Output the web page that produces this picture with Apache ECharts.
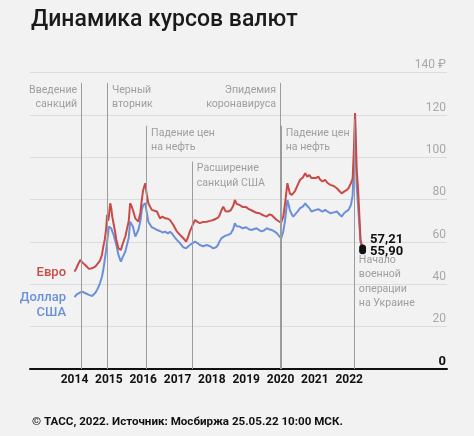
<!DOCTYPE html>
<html><head><meta charset="utf-8">
<script src="https://cdn.jsdelivr.net/npm/echarts@6/dist/echarts.min.js"></script>
<style>html,body{margin:0;padding:0;background:#f2f2f2}#c{width:474px;height:436px}</style>
</head><body><div id="c"></div>
<script>
// decimal years
const dates = [2014.00,2014.05,2014.12,2014.17,2014.22,2014.27,2014.32,2014.37,2014.42,2014.46,2014.51,2014.56,2014.61,2014.66,2014.71,2014.75,2014.80,2014.84,2014.88,2014.92,2014.95,2014.98,
2015.00,2015.04,2015.07,2015.10,2015.14,2015.18,2015.22,2015.28,2015.35,2015.41,2015.48,2015.53,2015.58,2015.62,2015.66,2015.70,2015.77,2015.86,2015.92,2015.96,
2016.00,2016.06,2016.10,2016.15,2016.25,2016.30,2016.40,2016.49,2016.56,2016.64,2016.72,2016.78,2016.84,2016.88,2016.93,2016.98,
2017.07,2017.12,2017.17,2017.25,2017.30,2017.36,2017.44,2017.51,2017.58,2017.65,2017.75,2017.85,2017.95,
2018.04,2018.12,2018.18,2018.23,2018.28,2018.33,2018.40,2018.47,2018.55,2018.62,2018.67,2018.72,2018.81,2018.90,
2019.00,2019.08,2019.15,2019.20,2019.30,2019.39,2019.45,2019.52,2019.60,2019.67,2019.74,2019.82,2019.89,2019.95,
2020.02,2020.08,2020.13,2020.20,2020.24,2020.27,2020.33,2020.37,2020.42,2020.50,2020.57,2020.65,2020.72,2020.78,2020.84,2020.90,2020.95,
2021.03,2021.10,2021.15,2021.22,2021.30,2021.36,2021.45,2021.55,2021.64,2021.72,2021.78,2021.85,2021.92,2021.98,
2022.05,2022.10,2022.14,2022.17,2022.20,2022.22,2022.26,2022.33,2022.39];
const euro = [46,47.5,50,51.5,50.5,49.8,49,48.2,47.3,47,47.6,48,48.5,49,50.5,51.5,54,58,61,66,72.8,70,
72,78.3,76,72,68.5,65,61,57,56.3,59.4,62.6,61.8,70,78.3,77,75.2,71.2,69.6,74,79.9,
84.6,87.8,83,78.3,75.2,76,74.4,71.2,72,71.2,71,70.4,69,68,66.5,65,
63.4,62.5,61.8,60.2,62,65,68,70.4,69.5,68.9,69.5,69.6,70,
70.4,71,71.5,72.8,75,76.7,74.5,74.4,75,77,79.9,78,77.5,76.5,
76.5,75.5,75,74.4,73.8,73.6,73,72.5,72,73,72.8,71.5,70.4,69.8,
69.2,72,78,87.8,85,83,82.3,82,84,87,89.4,90.5,92.5,90.9,91.7,90.2,90.5,
90.2,90.9,89.5,88.6,89.4,88,87,86.5,85.4,84,83,83.8,84.5,85.4,
87.8,90,105,121,105,94,84.6,61,57.21];
const usd = [34,35,35.8,36.4,36.6,36,35.8,35.3,35,34.6,34.5,35.2,36,37.5,39.2,41,43.6,47,51.5,56,60.2,64,
67.3,68,66.5,65,63.4,61,58.6,53.9,50.7,53.1,55.5,55.5,62,69.6,68.5,67.3,62.6,65.7,70,75.2,
77.5,78.3,77.5,69.6,67,66.5,65.7,65.2,64.5,64.9,64,64.9,64,64.2,62,61,
59.5,58.6,57.5,57,57.5,58.6,59.5,60.2,59.5,58.6,58,58.6,58,
57,57.5,58.6,60.5,61.8,62.5,63,63.4,64,66,68.9,67.5,67.3,66.5,
67,66,65.7,65.5,66.5,65.5,65,65.5,66.5,66,65.7,65,64.2,63,
61.8,65,70,79.9,77.5,75.2,73,72,72.8,74.5,76,76.7,78.3,77,76,74.4,74.5,
75.2,75.5,76,74.4,75.2,74.5,73.6,74,74.4,73,72,73.6,74.5,75.2,
77.5,82,98,115,96,86,76.7,60,55.90];
const seriesNames = ['Евро', 'Доллар\nСША'];
const yearTicks = [2014,2015,2016,2017,2018,2019,2020,2021,2022];
const eventDates = [2014.21, 2014.96, 2016.10, 2017.43, 2020.00, 2020.02, 2022.15];
const eventLineTops = [135.2, 135.2, 114.9, 98, 135.2, 114.9, 118];
const eventTextTops = [135.2, 135.2, 114.9, 98, 135.2, 114.9, 54.8];
const eventTexts = ['Введение\nсанкций','Черный\nвторник','Падение цен\nна нефть','Расширение\nсанкций США','Эпидемия\nкоронавируса','Падение цен\nна нефть','Начало\nвоенной\nоперации\nна Украине'];
const eventLeft = [true, false, false, false, true, false, false];

const FONT = 'Roboto';
const RED = '#c94a47', BLUE = '#6b90d8';
const last = dates.length - 1;
const fmt = v => v.toFixed(2).replace('.', ',');

function lineSeries(name, vals, color, startOffset, endOffset, z) {
  return {
    type: 'line', name, z,
    data: dates.map((d, i) => [d, vals[i]]),
    showSymbol: false, symbol: 'none',
    lineStyle: { color, width: 2 },
    itemStyle: { color },
    markPoint: {
      silent: true, animation: false,
      data: [
        { coord: [dates[0], vals[0]], symbol: 'circle', symbolSize: 1, itemStyle: { color: 'transparent' },
          label: { show: true, position: 'left', distance: 8, formatter: name, color, fontFamily: FONT, fontSize: 13, fontWeight: 500, align: 'right', lineHeight: 15, offset: startOffset } },
        { coord: [dates[last], vals[last]], symbol: 'circle', symbolSize: 7, itemStyle: { color: '#111' },
          label: { show: true, position: 'right', distance: 4, formatter: fmt(vals[last]), color: '#111', fontFamily: FONT, fontSize: 13, fontWeight: 'bold', offset: endOffset } }
      ]
    }
  };
}

const chart = echarts.init(document.getElementById('c'), null, { renderer: 'canvas' });
chart.setOption({
  animation: false,
  backgroundColor: '#f2f2f2',
  title: [
    { text: 'Динамика курсов валют', left: 26, top: 4, textStyle: { fontFamily: FONT, fontSize: 23, fontWeight: 500, color: '#1a1a1a' } },
    { text: '© ТАСС, 2022. Источник: Мосбиржа 25.05.22 10:00 МСК.', left: 27, top: 411, textStyle: { fontFamily: FONT, fontSize: 11.6, fontWeight: 'bold', color: '#111' } }
  ],
  grid: { left: 30, right: 27, top: 72.7, bottom: 67 },
  xAxis: {
    type: 'value', min: 2012.704, max: 2024.848,
    axisLine: { lineStyle: { color: '#111', width: 2 } },
    axisTick: { show: false }, splitLine: { show: false },
    axisLabel: { customValues: yearTicks, formatter: v => String(v), fontFamily: FONT, fontWeight: 'bold', fontSize: 12, color: '#111', margin: 5 }
  },
  yAxis: {
    type: 'value', position: 'right', min: 0, max: 140, interval: 20,
    axisLine: { show: false }, axisTick: { show: false },
    splitLine: { lineStyle: { color: '#dcdcdc', width: 1 } },
    axisLabel: {
      inside: true, margin: 1, verticalAlign: 'bottom', lineHeight: 15,
      color: '#a8a8a8', fontFamily: FONT, fontSize: 12,
      formatter: v => v === 0 ? '{z|0}' : (v === 140 ? '140 ₽' : String(v)),
      rich: { z: { fontFamily: FONT, fontWeight: 'bold', color: '#111', fontSize: 13 } }
    }
  },
  series: [
    {
      type: 'scatter', z: 1, silent: true,
      symbolSize: 1, itemStyle: { color: 'transparent' },
      data: eventDates.map((d, i) => ({
        value: [d, eventTextTops[i]],
        label: {
          show: true, formatter: eventTexts[i],
          position: eventLeft[i] ? 'left' : 'right', distance: 4,
          align: eventLeft[i] ? 'right' : 'left', verticalAlign: 'top',
          color: '#8a8a8a', fontFamily: FONT, fontSize: 10.6, lineHeight: 14.5
        }
      })),
      markLine: {
        silent: true, animation: false, symbol: ['none', 'none'],
        lineStyle: { color: '#9c9c9c', width: 1, type: 'solid' },
        label: { show: false },
        data: eventDates.map((d, i) => [{ coord: [d, 0] }, { coord: [d, eventLineTops[i]] }])
      }
    },
    lineSeries(seriesNames[1], usd, BLUE, [0, 8], [0, 1], 3),
    lineSeries(seriesNames[0], euro, RED, [0, 1.5], [0, -8], 4)
  ]
});
</script>
</body></html>
